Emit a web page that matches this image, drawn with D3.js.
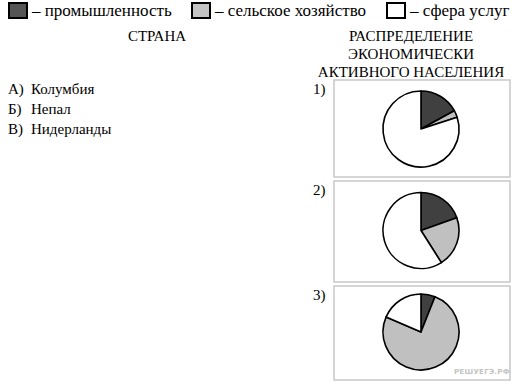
<!DOCTYPE html>
<html>
<head>
<meta charset="utf-8">
<script src="https://cdn.jsdelivr.net/npm/d3@7"></script>
<style>
  html, body { margin: 0; padding: 0; background: #fff; }
  svg { display: block; }
  svg text { font-family: "Liberation Serif", "Times New Roman", Tinos, "DejaVu Serif", serif; }
  svg text.mark { font-family: "DejaVu Sans", sans-serif; }
</style>
</head>
<body>
<script>
// Sectors of employment (legend order) and their fills
const sectors = ["промышленность", "сельское хозяйство", "сфера услуг"];
const sectorColors = ["#404040", "#c0c0c0", "#ffffff"];
const legendColors = ["#555555", "#c4c4c4", "#ffffff"];

// Countries to be matched
const countryLetters = ["А)", "Б)", "В)"];
const countries = ["Колумбия", "Непал", "Нидерланды"];

// Distribution of the economically active population, % (industry, agriculture, services)
const chartLabels = ["1)", "2)", "3)"];
const industry    = [17, 19.5, 6];
const agriculture = [3, 21.5, 75.5];
const services    = [80, 59, 18.5];

const headingLeft = "СТРАНА";
const headingRight = ["РАСПРЕДЕЛЕНИЕ", "ЭКОНОМИЧЕСКИ", "АКТИВНОГО НАСЕЛЕНИЯ"];
const watermark = "РЕШУЕГЭ.РФ";

const W = 516, H = 386;
const svg = d3.select("body").append("svg").attr("width", W).attr("height", H);

// Legend
const legendX = [8, 191, 386];
const legend = svg.append("g");
sectors.forEach((s, i) => {
  const g = legend.append("g").attr("transform", `translate(${legendX[i]},2)`);
  g.append("rect").attr("x", 1).attr("y", 1).attr("width", 18).attr("height", 15)
    .attr("fill", legendColors[i]).attr("stroke", "#000").attr("stroke-width", 2);
  g.append("text").attr("x", 24).attr("y", 14).attr("font-size", 17).text("\u2013 " + s);
});

// Column headings
svg.append("text").attr("x", 157).attr("y", 41).attr("text-anchor", "middle")
  .attr("font-size", 15).text(headingLeft);
svg.append("g").selectAll("text").data(headingRight).join("text")
  .attr("x", 411).attr("y", (d, i) => 41 + i * 18).attr("text-anchor", "middle")
  .attr("font-size", 15).text(d => d);

// Country list
const rows = svg.append("g");
countries.forEach((c, i) => {
  const y = 94 + i * 20;
  rows.append("text").attr("x", 8).attr("y", y).attr("font-size", 15).text(countryLetters[i]);
  rows.append("text").attr("x", 31).attr("y", y).attr("font-size", 15).text(c);
});

// Pie panels
const boxes = [
  { y: 80, h: 97 },
  { y: 181, h: 101 },
  { y: 286, h: 94 }
];
const boxX = 334, boxW = 176;
const radius = 38;

const pie = d3.pie().sort(null).value(d => d.value);
const arc = d3.arc().innerRadius(0).outerRadius(radius);

chartLabels.forEach((lab, i) => {
  const b = boxes[i];
  svg.append("rect").attr("x", boxX).attr("y", b.y).attr("width", boxW).attr("height", b.h)
    .attr("fill", "#fff").attr("stroke", "#c8c8c8").attr("stroke-width", 1.5);
  svg.append("text").attr("x", 313).attr("y", b.y + 14).attr("font-size", 15).text(lab);

  const data = [
    { value: industry[i], color: sectorColors[0] },
    { value: agriculture[i], color: sectorColors[1] },
    { value: services[i], color: sectorColors[2] }
  ];
  const cy = b.y + b.h / 2 + (i === 0 ? 0.5 : -1);
  const g = svg.append("g").attr("transform", `translate(421,${cy})`);
  g.selectAll("path").data(pie(data)).join("path")
    .attr("d", arc).attr("fill", d => d.data.color)
    .attr("stroke", "#000").attr("stroke-width", 1.6).attr("stroke-linejoin", "round");
});

// Site mark
svg.append("text").attr("class", "mark").attr("x", 510).attr("y", 374).attr("text-anchor", "end")
  .attr("font-size", 7).attr("font-weight", "bold").attr("letter-spacing", 0.3)
  .attr("fill", "#c4c4c4").text(watermark);
</script>
</body>
</html>
